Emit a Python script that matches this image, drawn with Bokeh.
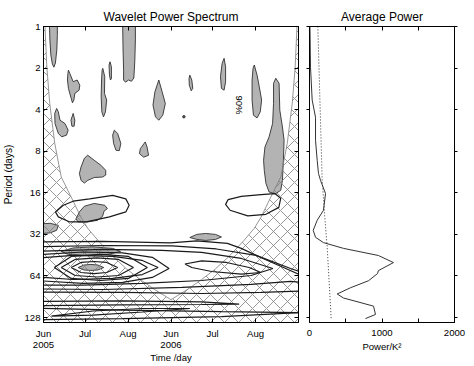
import math
from bokeh.plotting import figure
from bokeh.models import Range1d, LinearAxis, LogAxis, FixedTicker, Label, BasicTickFormatter
from bokeh.layouts import row
from bokeh.embed import file_html
from bokeh.resources import INLINE

FONT = "Liberation Sans"

# ---------------- axes data ----------------
n_days = 184
period_min, period_max = 1, 139
day_ticks = [0, 30, 61, 92, 122, 153]
day_tick_labels = ["Jun", "Jul", "Aug", "Jun", "Jul", "Aug"]
year_ticks = [0, 92]
year_labels = ["2005", "2006"]
period_ticks = [1, 2, 4, 8, 16, 32, 64, 128]
power_ticks = [0, 500, 1000, 1500, 2000]
power_tick_labels = ["0", " ", "1000", " ", "2000"]

# ---------------- cone of influence (left half, mirrored) ----------------
coi_days = [0, 1.2, 2.4, 4.5, 8.1, 12.8, 20, 27, 32, 40, 50, 60, 70, 80, 92]
coi_periods = [0.5, 1.06, 1.96, 3.6, 7.0, 12.3, 17.2, 24, 29, 36, 46, 57, 68, 80, 95]

# ---------------- 90% significant regions (grey) ----------------
sig_days = [
    [4.3, 4.6, 5.3, 6.4, 7.5, 8.6, 9.6, 10, 10],
    [57.1, 57.4, 57.8, 57.8, 59.2, 61.3, 63.5, 65.2, 65.9, 66.3, 66.3],
    [18.0, 19.0, 21.4, 24.3, 26.2, 25.7, 22.6, 21.9, 20.9, 20.0, 18.0, 17.3, 17.6],
    [42.8, 44.2, 44.0, 45.6, 44.7, 43.3, 42.1, 41.6, 41.9, 42.3],
    [48.0, 49.0, 49.0, 48.3, 47.6, 47.3],
    [83.2, 85.6, 87.9, 86.1, 83.2, 80.8, 79.0, 80.4],
    [105.6, 107.0, 107.7, 106.6, 105.2, 105.0],
    [130.3, 131.4, 131.4, 130.3, 128.4, 127.7, 128.9],
    [152.1, 154.1, 155.7, 157.4, 156.4, 154.1, 151.5, 150.5, 150.5, 151.2],
    [167.6, 170.0, 170.5, 172.4, 173.6, 173.1, 172.4, 171.2, 167.6, 162.8, 160.5, 159.3, 158.8, 159.8, 162.8, 165.3, 166.0, 166.0],
    [9.5, 10.7, 11.9, 15.5, 17.8, 16.6, 13.1, 10.7, 8.3, 8.1],
    [21.4, 22.6, 22.1, 20.5, 19.8],
    [51.1, 53.5, 55.8, 54.7, 52.3, 50.6, 49.9],
    [73.4, 74.7, 75.8, 72.3, 69.2, 69.9],
    [31.9, 36.6, 41.4, 44.9, 44.9, 42.6, 36.6, 31.9, 29.5, 27.1, 25.9, 27.1, 29.5],
    [23.5, 25.9, 29.5, 36.6, 44.2, 46.1, 43.7, 42.6, 39.0, 31.9, 24.8],
    [-1, 4.8, 10.7, 9.5, 4.8, -1],
    [105.6, 110.6, 117, 124.1, 128.4, 124.1, 117, 110.6],
    [12.8, 21.4, 35.7, 49.9, 55.6, 46.4, 32.1, 17.8],
    [25, 29.2, 34.2, 39.2, 43.5, 39.2, 34.2, 29.2],
]
sig_periods = [
    [0.95, 1.25, 1.61, 1.87, 1.97, 1.84, 1.48, 1.16, 0.95],
    [0.95, 1.48, 2.07, 2.44, 2.53, 2.44, 2.49, 2.36, 1.75, 1.25, 0.95],
    [2.07, 2.19, 2.51, 2.44, 2.66, 2.89, 3.05, 3.41, 3.57, 3.32, 2.81, 2.44, 2.19],
    [2.01, 2.31, 3.05, 3.41, 4.15, 4.51, 4.15, 3.23, 2.44, 2.07],
    [1.80, 1.96, 2.38, 2.44, 2.25, 1.90],
    [2.44, 2.97, 3.61, 4.38, 4.77, 4.51, 3.71, 2.97],
    [2.25, 2.44, 2.81, 2.92, 2.66, 2.38],
    [1.70, 1.96, 2.51, 2.89, 2.81, 2.31, 1.85],
    [1.90, 2.25, 2.73, 3.41, 4.15, 4.59, 4.39, 3.41, 2.44, 2.01],
    [2.37, 2.58, 4.03, 5.33, 6.66, 9.30, 13.0, 15.35, 16.2, 15.8, 13.7, 11.0, 9.30, 7.44, 6.29, 5.04, 3.60, 2.58],
    [3.92, 4.15, 4.77, 5.04, 5.63, 6.12, 6.29, 5.95, 5.04, 4.26],
    [4.26, 4.77, 5.27, 5.27, 4.77],
    [5.63, 5.95, 7.03, 7.92, 7.87, 7.03, 6.12],
    [6.85, 7.44, 8.55, 8.84, 8.32, 7.66],
    [8.55, 9.30, 10.1, 11.0, 11.9, 12.3, 12.4, 13.0, 13.6, 13.0, 11.6, 10.4, 9.0],
    [24.6, 22.0, 20.0, 19.1, 19.7, 20.8, 21.7, 23.7, 25.3, 26.0, 26.0],
    [26.8, 26.6, 27.5, 29.9, 31.2, 31.5],
    [33.7, 32.0, 31.5, 32.0, 33.4, 34.8, 35.4, 34.8],
    [42.5, 40.1, 39.4, 40.4, 42.5, 44.7, 45.4, 44.7],
    [55.6, 53.3, 52.8, 53.3, 55.6, 57.9, 58.4, 57.9],
]
speck_day = [101.3]
speck_period = [4.5]

# ---------------- wavelet power contour lines ----------------
contour_days = [
    [8.6, 14.3, 21.4, 33.3, 49.9, 59.4, 61.8, 59.4, 47.6, 30.9, 19.0, 10.7, 8.6],
    [133.2, 142.7, 157, 166.9, 171.2, 169.8, 160.5, 147.4, 134.6, 131.4, 133.2],
    [0, 42.8, 91.3, 110.6, 132.7, 142.7, 158.4, 174.8, 190],
    [190, 156.9, 114.1, 57.1, 0],
    [0, 42.8, 92.7, 124.8, 153.4, 178.3, 190],
    [190, 178.3, 149.8, 99.9, 42.8, 0],
    [0, 42.8, 85.6, 114.1, 142.7, 165.5, 149.8, 114.1, 71.3, 28.5, 0],
    [0, 28.5, 57.1, 78.5, 90.6, 78.5, 57.1, 28.5, 0],
    [0, 21.4, 49.9, 71.3, 82.7, 71.3, 49.9, 21.4, 0],
    [7.8, 20, 41.4, 61.3, 74.9, 61.3, 41.4, 20, 7.8],
    [12.8, 22.8, 38.5, 54.2, 64.9, 54.2, 38.5, 22.8, 12.8],
    [20, 27.1, 36.4, 45.6, 53.5, 45.6, 36.4, 27.1, 20],
    [102, 114.1, 132, 148.4, 156.9, 142.7, 121.3, 107, 102],
    [0, 57.1, 114.1, 141.2, 114.1, 57.1, 0],
    [5.7, 35.7, 71.3, 105.6, 71.3, 35.7, 5.7],
    [0, 57.1, 128.4, 190],
    [0, 57.1, 128.4, 190],
]
contour_periods = [
    [22.0, 19.7, 18.4, 17.7, 16.7, 17.7, 19.7, 22.0, 23.9, 26.0, 26.0, 23.9, 22.0],
    [17.9, 17.0, 16.5, 16.2, 17.5, 20.4, 22.9, 23.5, 21.4, 19.4, 17.9],
    [36.3, 35.9, 36.9, 35.6, 37.2, 40.4, 47.8, 56.5, 66.0],
    [82.0, 84.2, 85.7, 84.2, 83.7],
    [39.3, 38.5, 38.8, 40.8, 45.4, 56.5, 62.0],
    [72.0, 70.0, 73.7, 77.3, 80.2, 79.5],
    [42.3, 41.1, 41.8, 43.2, 47.8, 56.5, 63.5, 69.0, 72.5, 74.5, 74.5],
    [44.7, 42.9, 43.6, 46.9, 56.5, 65.6, 71.2, 72.5, 69.6],
    [47.1, 45.4, 46.2, 49.4, 55.6, 62.5, 66.7, 67.9, 65.6],
    [55.6, 46.2, 44.7, 46.2, 55.6, 66.7, 69.0, 66.7, 55.6],
    [55.6, 48.6, 47.4, 48.6, 55.6, 63.5, 65.1, 63.5, 55.6],
    [55.6, 51.1, 50.3, 51.1, 55.6, 60.4, 61.5, 60.4, 55.6],
    [52.4, 49.8, 51.1, 55.6, 60.4, 62.1, 59.4, 55.6, 52.4],
    [97.6, 97.0, 98.5, 102.2, 103.0, 103.5, 104.8],
    [124.8, 114.8, 110.1, 110.1, 116.7, 122.8, 124.8],
    [110.0, 113.0, 116.0, 118.0],
    [132.4, 130.2, 126.0, 117.3],
]

# ---------------- global (average) wavelet power ----------------
gws_periods = [1.0, 1.06, 1.97, 3.41, 4.54, 6.66, 9.3, 11.6, 13.0, 16.2, 21.4, 25.3, 29.9, 33.6,
               36.7, 40.4, 45.5, 51.2, 58.5, 61.5, 69.3, 77.9, 86.4, 92.4, 105.8, 121.6, 130.2]
gws_power = [5, 7, 14, 37, 83, 83, 106, 124, 152, 221, 193, 106, 51, 83,
             193, 469, 951, 1158, 951, 938, 814, 565, 382, 469, 883, 910, 772]
siglev_periods = [1, 13, 22.6, 39.6, 130]
siglev_power = [115, 175, 207, 244, 299]


def style_axis(ax, size="9.6px"):
    ax.major_label_text_font = FONT
    ax.major_label_text_font_size = size
    ax.major_label_text_color = "black"
    ax.axis_label_text_font = FONT
    ax.axis_label_text_font_size = "9.5px"
    ax.axis_label_text_font_style = "normal"
    ax.axis_label_text_color = "black"
    ax.axis_line_color = "black"
    ax.major_tick_line_color = "black"
    ax.minor_tick_line_color = None
    ax.major_tick_in = 4
    ax.major_tick_out = 0


def hide_labels(ax):
    ax.major_label_text_font_size = "1px"
    ax.major_label_text_color = None
    ax.major_label_standoff = 0


def style_title(p, text):
    p.title.text = text
    p.title.align = "center"
    p.title.text_font = FONT
    p.title.text_font_size = "12px"
    p.title.text_font_style = "normal"
    p.title.text_color = "black"
    p.title.standoff = 6


# ================= left panel =================
p1 = figure(width=303, height=366, x_range=Range1d(0, n_days),
            y_range=Range1d(period_max, period_min), y_axis_type="log",
            output_backend="svg", toolbar_location=None,
            min_border_left=40, min_border_right=5, min_border_top=26, min_border_bottom=44)
p1.grid.visible = False
p1.outline_line_color = "black"
style_title(p1, "Wavelet Power Spectrum")

p1.xaxis.ticker = FixedTicker(ticks=day_ticks)
p1.xaxis.major_label_overrides = dict(zip(day_ticks, day_tick_labels))
p1.yaxis.ticker = FixedTicker(ticks=period_ticks)
p1.yaxis.formatter = BasicTickFormatter()
p1.yaxis.axis_label = "Period (days)"
style_axis(p1.xaxis[0])
style_axis(p1.yaxis[0])
p1.yaxis.axis_label_text_font_size = "10px"
p1.xaxis.major_label_standoff = 5
p1.yaxis.major_label_standoff = 3
p1.yaxis.axis_label_standoff = 7

year_axis = LinearAxis(ticker=FixedTicker(ticks=year_ticks),
                       major_label_overrides=dict(zip(year_ticks, year_labels)))
style_axis(year_axis)
year_axis.axis_line_color = None
year_axis.major_tick_line_color = None
year_axis.major_tick_in = 0
year_axis.major_label_standoff = 0
year_axis.axis_label = "Time /day"
year_axis.axis_label_standoff = 1
p1.add_layout(year_axis, "below")

top1 = LinearAxis(ticker=FixedTicker(ticks=day_ticks))
style_axis(top1)
hide_labels(top1)
p1.add_layout(top1, "above")
right1 = LogAxis(ticker=FixedTicker(ticks=period_ticks))
style_axis(right1)
hide_labels(right1)
p1.add_layout(right1, "right")

# significant regions
p1.patches(xs=sig_days, ys=sig_periods, fill_color="#b3b3b3", line_color="#303030", line_width=0.9)
p1.scatter(x=speck_day, y=speck_period, size=2.5, color="#444444")

# cone of influence hatching
coi_x = coi_days + [n_days - d for d in reversed(coi_days)] + [n_days, 0]
coi_y = coi_periods + list(reversed(coi_periods)) + [400, 400]
p1.patch(x=coi_x, y=coi_y, fill_alpha=0, hatch_pattern="diagonal_cross", hatch_color="#7c7c7c",
         hatch_scale=14, hatch_weight=0.8, line_color="#7c7c7c", line_width=0.8)

# power contours
p1.multi_line(xs=contour_days, ys=contour_periods, line_color="#1a1a1a", line_width=1.2)

p1.add_layout(Label(x=141.5, y=3.7, text="90%", angle=-math.pi / 2, text_align="center",
                    text_baseline="middle", text_font=FONT, text_font_size="9.5px",
                    text_color="black"))

# ================= right panel =================
p2 = figure(width=171, height=366, x_range=Range1d(0, 2000),
            y_range=Range1d(period_max, period_min), y_axis_type="log",
            output_backend="svg", toolbar_location=None,
            min_border_left=6, min_border_right=20, min_border_top=26, min_border_bottom=44)
p2.grid.visible = False
p2.outline_line_color = "black"
style_title(p2, "Average Power")
p2.xaxis.ticker = FixedTicker(ticks=power_ticks)
p2.xaxis.major_label_overrides = dict(zip(power_ticks, power_tick_labels))
p2.xaxis.axis_label = "Power/K\u00b2"
style_axis(p2.xaxis[0])
p2.xaxis.major_label_standoff = 4
p2.xaxis.axis_label_standoff = 0
p2.yaxis.ticker = FixedTicker(ticks=period_ticks)
style_axis(p2.yaxis[0])
hide_labels(p2.yaxis[0])
p2.yaxis.major_tick_in = 0
p2.yaxis.major_tick_out = 3

top2 = LinearAxis(ticker=FixedTicker(ticks=power_ticks))
style_axis(top2)
hide_labels(top2)
p2.add_layout(top2, "above")
right2 = LogAxis(ticker=FixedTicker(ticks=period_ticks))
style_axis(right2)
hide_labels(right2)
right2.major_tick_in = 0
right2.major_tick_out = 3
p2.add_layout(right2, "right")

p2.line(x=gws_power, y=gws_periods, line_color="#333333", line_width=1)
p2.line(x=siglev_power, y=siglev_periods, line_color="#333333", line_width=1, line_dash="1 2")

layout = row(p1, p2, spacing=0)
open("out.html", "w").write(file_html(layout, INLINE))
